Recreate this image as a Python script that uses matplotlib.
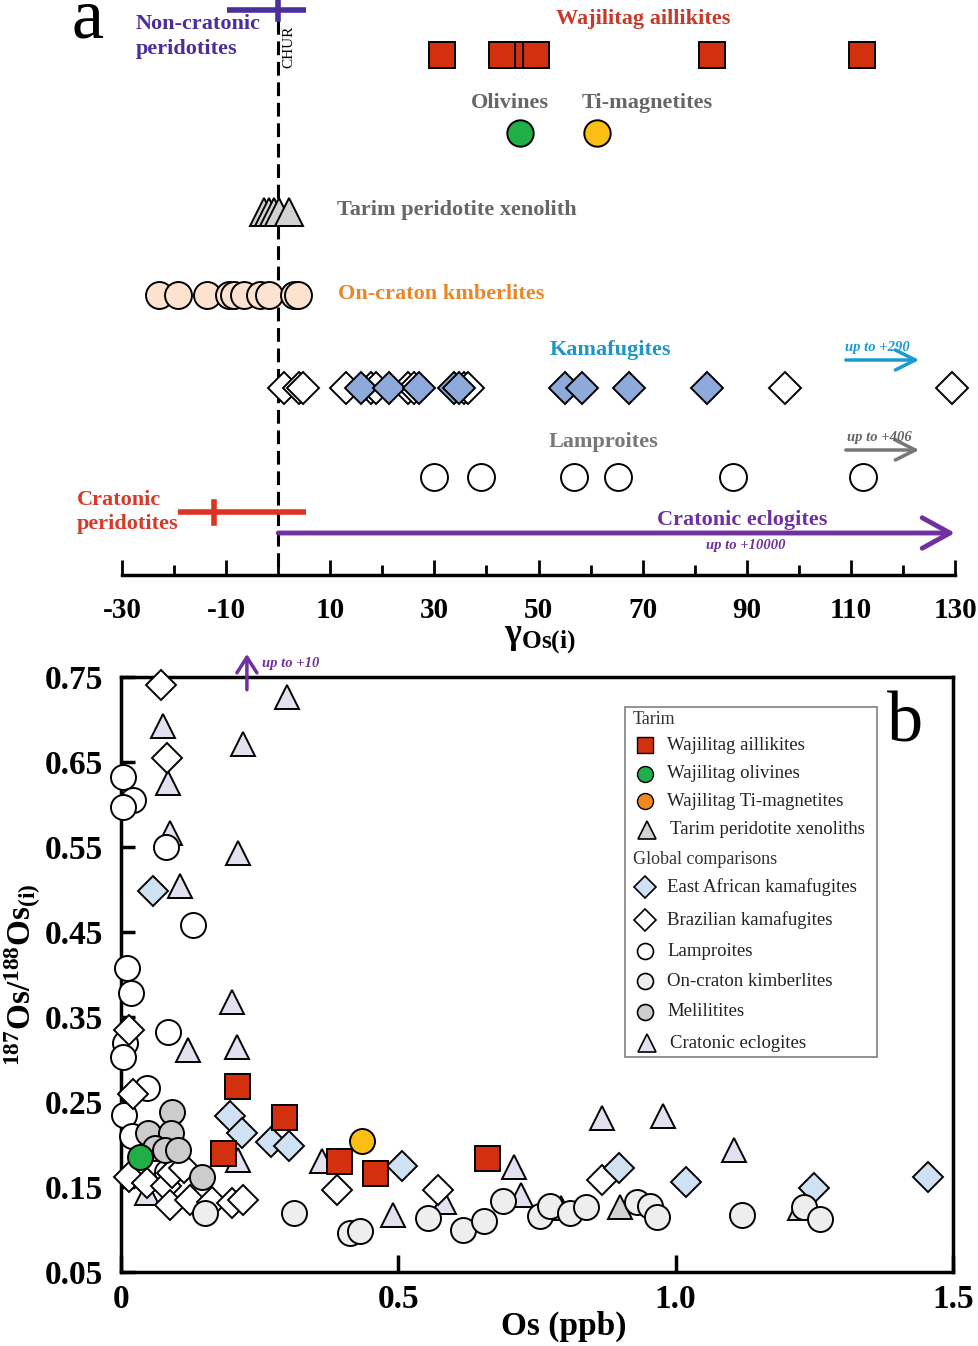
import matplotlib
matplotlib.use('Agg')
import matplotlib.pyplot as plt
from matplotlib.transforms import Affine2D
from matplotlib.patches import Rectangle, FancyArrowPatch
from matplotlib.lines import Line2D
import numpy as np

plt.rcParams['font.family'] = ['Liberation Serif', 'DejaVu Serif']
plt.rcParams['mathtext.fontset'] = 'custom'
plt.rcParams['mathtext.rm'] = 'Liberation Serif'
plt.rcParams['mathtext.bf'] = 'Liberation Serif:bold'
plt.rcParams['mathtext.it'] = 'Liberation Serif:italic'

# ---------------- data: panel a (gamma Os(i)) ----------------
aill_gamma = [31.5, 46.2, 42.9, 49.6, 83.3, 112.1]
olivine_gamma = [46.5]
timag_gamma = [61.3]
tarim_gamma = [-2.7, -1.7, -0.8, 0.2, 2.1]
kimb_gamma = [-22.9, -19.2, -13.7, -9.4, -8.5, -6.5, -3.5, -1.8, 3.1, 3.8]
kama_braz_gamma = [1.2, 4.0, 4.8, 13.1, 17.9, 18.8, 25.0, 26.0, 35.6, 36.5, 97.3, 129.4]
kama_ea_gamma = [16.0, 21.2, 27.1, 33.8, 34.8, 55.0, 58.3, 67.3, 82.3]
lamp_gamma = [30.0, 39.0, 56.9, 65.2, 87.3, 112.3]
noncrat_range = [-9.8, 5.4]
noncrat_mid = 0.0
crat_range = [-19.2, 5.4]
crat_mid = -12.3
eclog_start = 0.0
gamma_ticks = [-30, -10, 10, 30, 50, 70, 90, 110, 130]

# ---------------- data: panel b (Os ppb, 187Os/188Os(i)) ----------------
aill_os = [0.209, 0.293, 0.184, 0.393, 0.458, 0.660]
aill_ratio = [0.269, 0.232, 0.190, 0.181, 0.167, 0.184]
oliv_os = [0.034]
oliv_ratio = [0.185]
timag_os = [0.435]
timag_ratio = [0.204]
tarim_os = [0.794, 0.899]
tarim_ratio = [0.125, 0.126]
ea_os = [0.057, 0.197, 0.218, 0.271, 0.303, 0.507, 0.897, 1.018, 1.249, 1.455]
ea_ratio = [0.498, 0.234, 0.214, 0.203, 0.198, 0.175, 0.172, 0.156, 0.149, 0.162]
braz_os = [0.073, 0.083, 0.014, 0.021, 0.015, 0.047, 0.081, 0.092, 0.114, 0.088,
           0.125, 0.164, 0.200, 0.220, 0.390, 0.572, 0.868]
braz_ratio = [0.741, 0.655, 0.335, 0.260, 0.162, 0.155, 0.151, 0.167, 0.172, 0.129,
              0.135, 0.132, 0.131, 0.135, 0.146, 0.146, 0.158]
lamp_os = [0.004, 0.022, 0.004, 0.081, 0.130, 0.010, 0.018, 0.085, 0.007, 0.003,
           0.047, 0.006, 0.019, 0.083]
lamp_ratio = [0.632, 0.605, 0.597, 0.550, 0.458, 0.408, 0.378, 0.332, 0.319, 0.303,
              0.266, 0.235, 0.210, 0.168]
kimb_os = [0.152, 0.312, 0.413, 0.431, 0.554, 0.617, 0.655, 0.688, 0.755, 0.774,
           0.809, 0.839, 0.930, 0.953, 0.966, 1.119, 1.231, 1.260]
kimb_ratio = [0.119, 0.119, 0.096, 0.098, 0.114, 0.099, 0.110, 0.134, 0.116, 0.128,
              0.119, 0.127, 0.132, 0.128, 0.115, 0.117, 0.127, 0.112]
mel_os = [0.092, 0.049, 0.090, 0.061, 0.079, 0.103, 0.146]
mel_ratio = [0.238, 0.214, 0.214, 0.196, 0.194, 0.194, 0.162]
ecl_os = [0.300, 0.076, 0.220, 0.085, 0.088, 0.211, 0.106, 0.200, 0.209, 0.121,
          0.211, 0.363, 0.047, 0.490, 0.583, 0.708, 0.722, 0.868, 0.978, 1.105, 1.225]
ecl_ratio = [0.726, 0.692, 0.671, 0.625, 0.566, 0.543, 0.504, 0.368, 0.315, 0.311,
             0.182, 0.181, 0.143, 0.117, 0.132, 0.173, 0.141, 0.231, 0.233, 0.193, 0.125]
ecl_offscale_os = 0.227
os_ticks = [0, 0.5, 1.0, 1.5]
os_ticklabels = ['0', '0.5', '1.0', '1.5']
ratio_ticks = [0.05, 0.15, 0.25, 0.35, 0.45, 0.55, 0.65, 0.75]

# ---------------- colours ----------------
RED = '#d3300f'
GREEN = '#1fae48'
YELLOW = '#fbbf14'
ORANGE_LEG = '#f0881c'
GRAY_TRI = '#d2d2d2'
BLUE_A = '#8eaadb'
BLUE_B = '#cfe2f3'
LAV = '#e4e0f0'
PEACH = '#fde3cf'
KIMB_B = '#eeeeee'
MEL = '#cccccc'
PURPLE = '#7030a0'
NONCRAT = '#4b2e9b'

W, H = 979, 1346
fig = plt.figure(figsize=(W / 100, H / 100), dpi=100)
PX = Affine2D().scale(1, -1).translate(0, H)  # top-left pixel coordinates

EW = 1.4

# ================= Panel a =================
axA = fig.add_axes([122 / W, 1 - 575 / H, 833 / W, 575 / H])
axA.set_xlim(-30, 130)
axA.set_ylim(575, 0)
axA.patch.set_alpha(0)
for s in ['left', 'right', 'top']:
    axA.spines[s].set_visible(False)
axA.spines['bottom'].set_linewidth(2.5)
axA.set_yticks([])
axA.set_xticks(gamma_ticks)
axA.set_xticks(np.arange(-20, 130, 20), minor=True)
axA.set_xticklabels([str(t) for t in gamma_ticks], fontweight='bold', fontsize=21)
axA.tick_params(axis='x', which='major', direction='in', length=11, width=2, pad=16)
axA.tick_params(axis='x', which='minor', direction='in', length=7, width=2)

# CHUR line
axA.plot([0, 0], [0, 575], ls=(0, (4.5, 2.2)), lw=2.2, color='black', clip_on=False, zorder=2)

for g in aill_gamma:
    axA.plot([g], [55], marker='s', ms=18.7, mfc=RED, mec='black', mew=EW, ls='none',
             zorder=5, clip_on=False)
for g in olivine_gamma:
    axA.plot([g], [133], marker='o', ms=19, mfc=GREEN, mec='black', mew=EW, ls='none', zorder=5)
for g in timag_gamma:
    axA.plot([g], [133], marker='o', ms=19, mfc=YELLOW, mec='black', mew=EW, ls='none', zorder=5)
for g in tarim_gamma:
    axA.plot([g], [212], marker='^', ms=20, mfc=GRAY_TRI, mec='black', mew=EW, ls='none',
             zorder=5, clip_on=False)
for g in kimb_gamma:
    axA.plot([g], [295], marker='o', ms=19.4, mfc=PEACH, mec='black', mew=EW, ls='none',
             zorder=5, clip_on=False)
for g in kama_braz_gamma:
    axA.plot([g], [388], marker='D', ms=16.5, mfc='white', mec='black', mew=EW, ls='none',
             zorder=5, clip_on=False)
for g in kama_ea_gamma:
    axA.plot([g], [388], marker='D', ms=16.5, mfc=BLUE_A, mec='black', mew=EW, ls='none',
             zorder=6, clip_on=False)
for g in lamp_gamma:
    axA.plot([g], [477], marker='o', ms=19.4, mfc='white', mec='black', mew=EW, ls='none',
             zorder=5, clip_on=False)

# range bars
axA.plot(noncrat_range, [10, 10], color=NONCRAT, lw=4, solid_capstyle='butt', clip_on=False, zorder=4)
axA.plot([noncrat_mid, noncrat_mid], [0, 19], color=NONCRAT, lw=4, clip_on=False, zorder=4)
axA.plot(crat_range, [512, 512], color='#dd3322', lw=4, solid_capstyle='butt', clip_on=False, zorder=4)
axA.plot([crat_mid, crat_mid], [502, 523], color='#dd3322', lw=4, clip_on=False, zorder=4)
axA.annotate('', xy=(130, 533), xytext=(eclog_start, 533),
             arrowprops=dict(arrowstyle='->,head_length=1.0,head_width=0.55', lw=3.5,
                             color=PURPLE, mutation_scale=20, shrinkA=0, shrinkB=0),
             annotation_clip=False)

# small "up to" arrows (layout)
fig.add_artist(FancyArrowPatch((843, 360), (922, 360), transform=PX,
               arrowstyle='->,head_length=0.9,head_width=0.45', mutation_scale=16,
               lw=2.5, color='#1a9bd0'))
fig.add_artist(FancyArrowPatch((843, 450), (922, 450), transform=PX,
               arrowstyle='->,head_length=0.9,head_width=0.45', mutation_scale=16,
               lw=2.5, color='#777777'))

def T(x, y, s, **kw):
    kw.setdefault('transform', PX)
    fig.text(x, y, s, **kw)

lab = dict(fontweight='bold', fontsize=16, va='center')
T(88, 38, 'a', fontsize=52, ha='center', va='baseline')
T(136, 24, 'Non-cratonic', color=NONCRAT, ha='left', **lab)
T(136, 49, 'peridotites', color=NONCRAT, ha='left', **lab)
T(289, 47, 'CHUR', rotation=90, fontsize=11, ha='center', va='center')
T(643, 19, 'Wajilitag aillikites', color='#c8392b', ha='center', **lab)
T(471, 103, 'Olivines', color='#666666', ha='left', **lab)
T(582, 103, 'Ti-magnetites', color='#666666', ha='left', **lab)
T(337, 210, 'Tarim peridotite xenolith', color='#666666', ha='left', **lab)
T(338, 294, 'On-craton kmberlites', color='#e8872a', ha='left', **lab)
T(550, 350, 'Kamafugites', color='#1e96c8', ha='left', **lab)
T(549, 442, 'Lamproites', color='#777777', ha='left', **lab)
T(657, 520, 'Cratonic eclogites', color=PURPLE, ha='left', **lab)
T(77, 500, 'Cratonic', color='#d63a2a', ha='left', **lab)
T(77, 524, 'peridotites', color='#d63a2a', ha='left', **lab)
ital = dict(fontstyle='italic', fontweight='bold', fontsize=10.5, va='center')
T(746, 545, 'up to +10000', color=PURPLE, ha='center', **ital)
T(845, 348, 'up to +290', color='#1a9bd0', ha='left', **ital)
T(847, 437, 'up to +406', color='#666666', ha='left', **ital)
T(540, 639, r'$\mathbf{\gamma_{Os(i)}}$', fontsize=26, ha='center', va='center')

# ================= Panel b =================
axB = fig.add_axes([121 / W, 1 - 1272 / H, 832 / W, 595 / H])
axB.set_xlim(0, 1.5)
axB.set_ylim(0.05, 0.75)
for s in axB.spines.values():
    s.set_linewidth(2.5)
axB.set_xticks(os_ticks)
axB.set_xticklabels(os_ticklabels, fontweight='bold', fontsize=24)
axB.set_yticks(ratio_ticks)
axB.set_yticklabels(['%.2f' % t for t in ratio_ticks], fontweight='bold', fontsize=24)
axB.tick_params(axis='x', direction='in', length=12, width=2.5, pad=9)
axB.tick_params(axis='y', direction='in', length=10, width=2.5, pad=13)

mk = dict(ls='none', clip_on=False, mec='black', mew=EW)
axB.plot(ecl_os, ecl_ratio, marker='^', ms=17, mfc=LAV, zorder=3, **mk)
axB.plot(lamp_os, lamp_ratio, marker='o', ms=18, mfc='white', zorder=4, **mk)
axB.plot(braz_os, braz_ratio, marker='D', ms=14.8, mfc='white', zorder=5, **mk)
axB.plot(ea_os, ea_ratio, marker='D', ms=14.8, mfc=BLUE_B, zorder=5, **mk)
axB.plot(mel_os, mel_ratio, marker='o', ms=18, mfc=MEL, zorder=6, **mk)
axB.plot(tarim_os, tarim_ratio, marker='^', ms=17, mfc=GRAY_TRI, zorder=6, **mk)
axB.plot(kimb_os, kimb_ratio, marker='o', ms=18, mfc=KIMB_B, zorder=7, **mk)
axB.plot(aill_os, aill_ratio, marker='s', ms=18, mfc=RED, zorder=8, **mk)
axB.plot(oliv_os, oliv_ratio, marker='o', ms=18, mfc=GREEN, zorder=8, **mk)
axB.plot(timag_os, timag_ratio, marker='o', ms=18, mfc=YELLOW, zorder=8, **mk)
axB.annotate('', xy=(ecl_offscale_os, 0.777), xytext=(ecl_offscale_os, 0.735),
             arrowprops=dict(arrowstyle='->,head_length=0.7,head_width=0.45', lw=2.5,
                             color=PURPLE, mutation_scale=16, shrinkA=0, shrinkB=0),
             annotation_clip=False)
T(262, 664, 'up to +10', color=PURPLE, ha='left', **ital)

T(564, 1326, 'Os (ppb)', fontweight='bold', fontsize=24, ha='center', va='center')
T(22, 975, r'$\mathbf{^{187}Os/^{188}Os_{(i)}}$', fontsize=24, rotation=90,
  ha='center', va='center')
T(905, 742, 'b', fontsize=52, ha='center', va='baseline')

# ---------------- legend (panel b) ----------------
fig.add_artist(Rectangle((625, 707), 252, 350, transform=PX, facecolor='white',
                         edgecolor='#808080', lw=1.2, zorder=20))
legend_rows = [
    ('head', 'Tarim', 720, None),
    ('s', 'Wajilitag aillikites', 745, RED),
    ('o', 'Wajilitag olivines', 774, GREEN),
    ('o', 'Wajilitag Ti-magnetites', 801, ORANGE_LEG),
    ('^', 'Tarim peridotite xenoliths', 830, GRAY_TRI),
    ('head', 'Global comparisons', 859, None),
    ('D', 'East African kamafugites', 887, BLUE_B),
    ('D', 'Brazilian kamafugites', 920, 'white'),
    ('o', 'Lamproites', 951, 'white'),
    ('o', 'On-craton kimberlites', 981, KIMB_B),
    ('o', 'Melilitites', 1012, MEL),
    ('^', 'Cratonic eclogites', 1043, LAV),
]
msz = {'s': 12, 'o': 11.5, 'D': 11.5, '^': 13}
for m, label, y, c in legend_rows:
    if m == 'head':
        T(633, y, label, fontsize=13, color='#333333', ha='left', va='center', zorder=21)
    else:
        mx = 647 if m == '^' else 645
        fig.add_artist(Line2D([mx], [y], marker=m, ms=msz[m], mfc=c, mec='black',
                              mew=1.0 if c in (RED, GREEN, ORANGE_LEG) else 1.2,
                              ls='none', transform=PX, zorder=21))
        tx = 670 if m == '^' else 667
        T(tx, y, label, fontsize=13.5, color='#222222', ha='left', va='center', zorder=21)

fig.savefig('out.png', dpi=100)
